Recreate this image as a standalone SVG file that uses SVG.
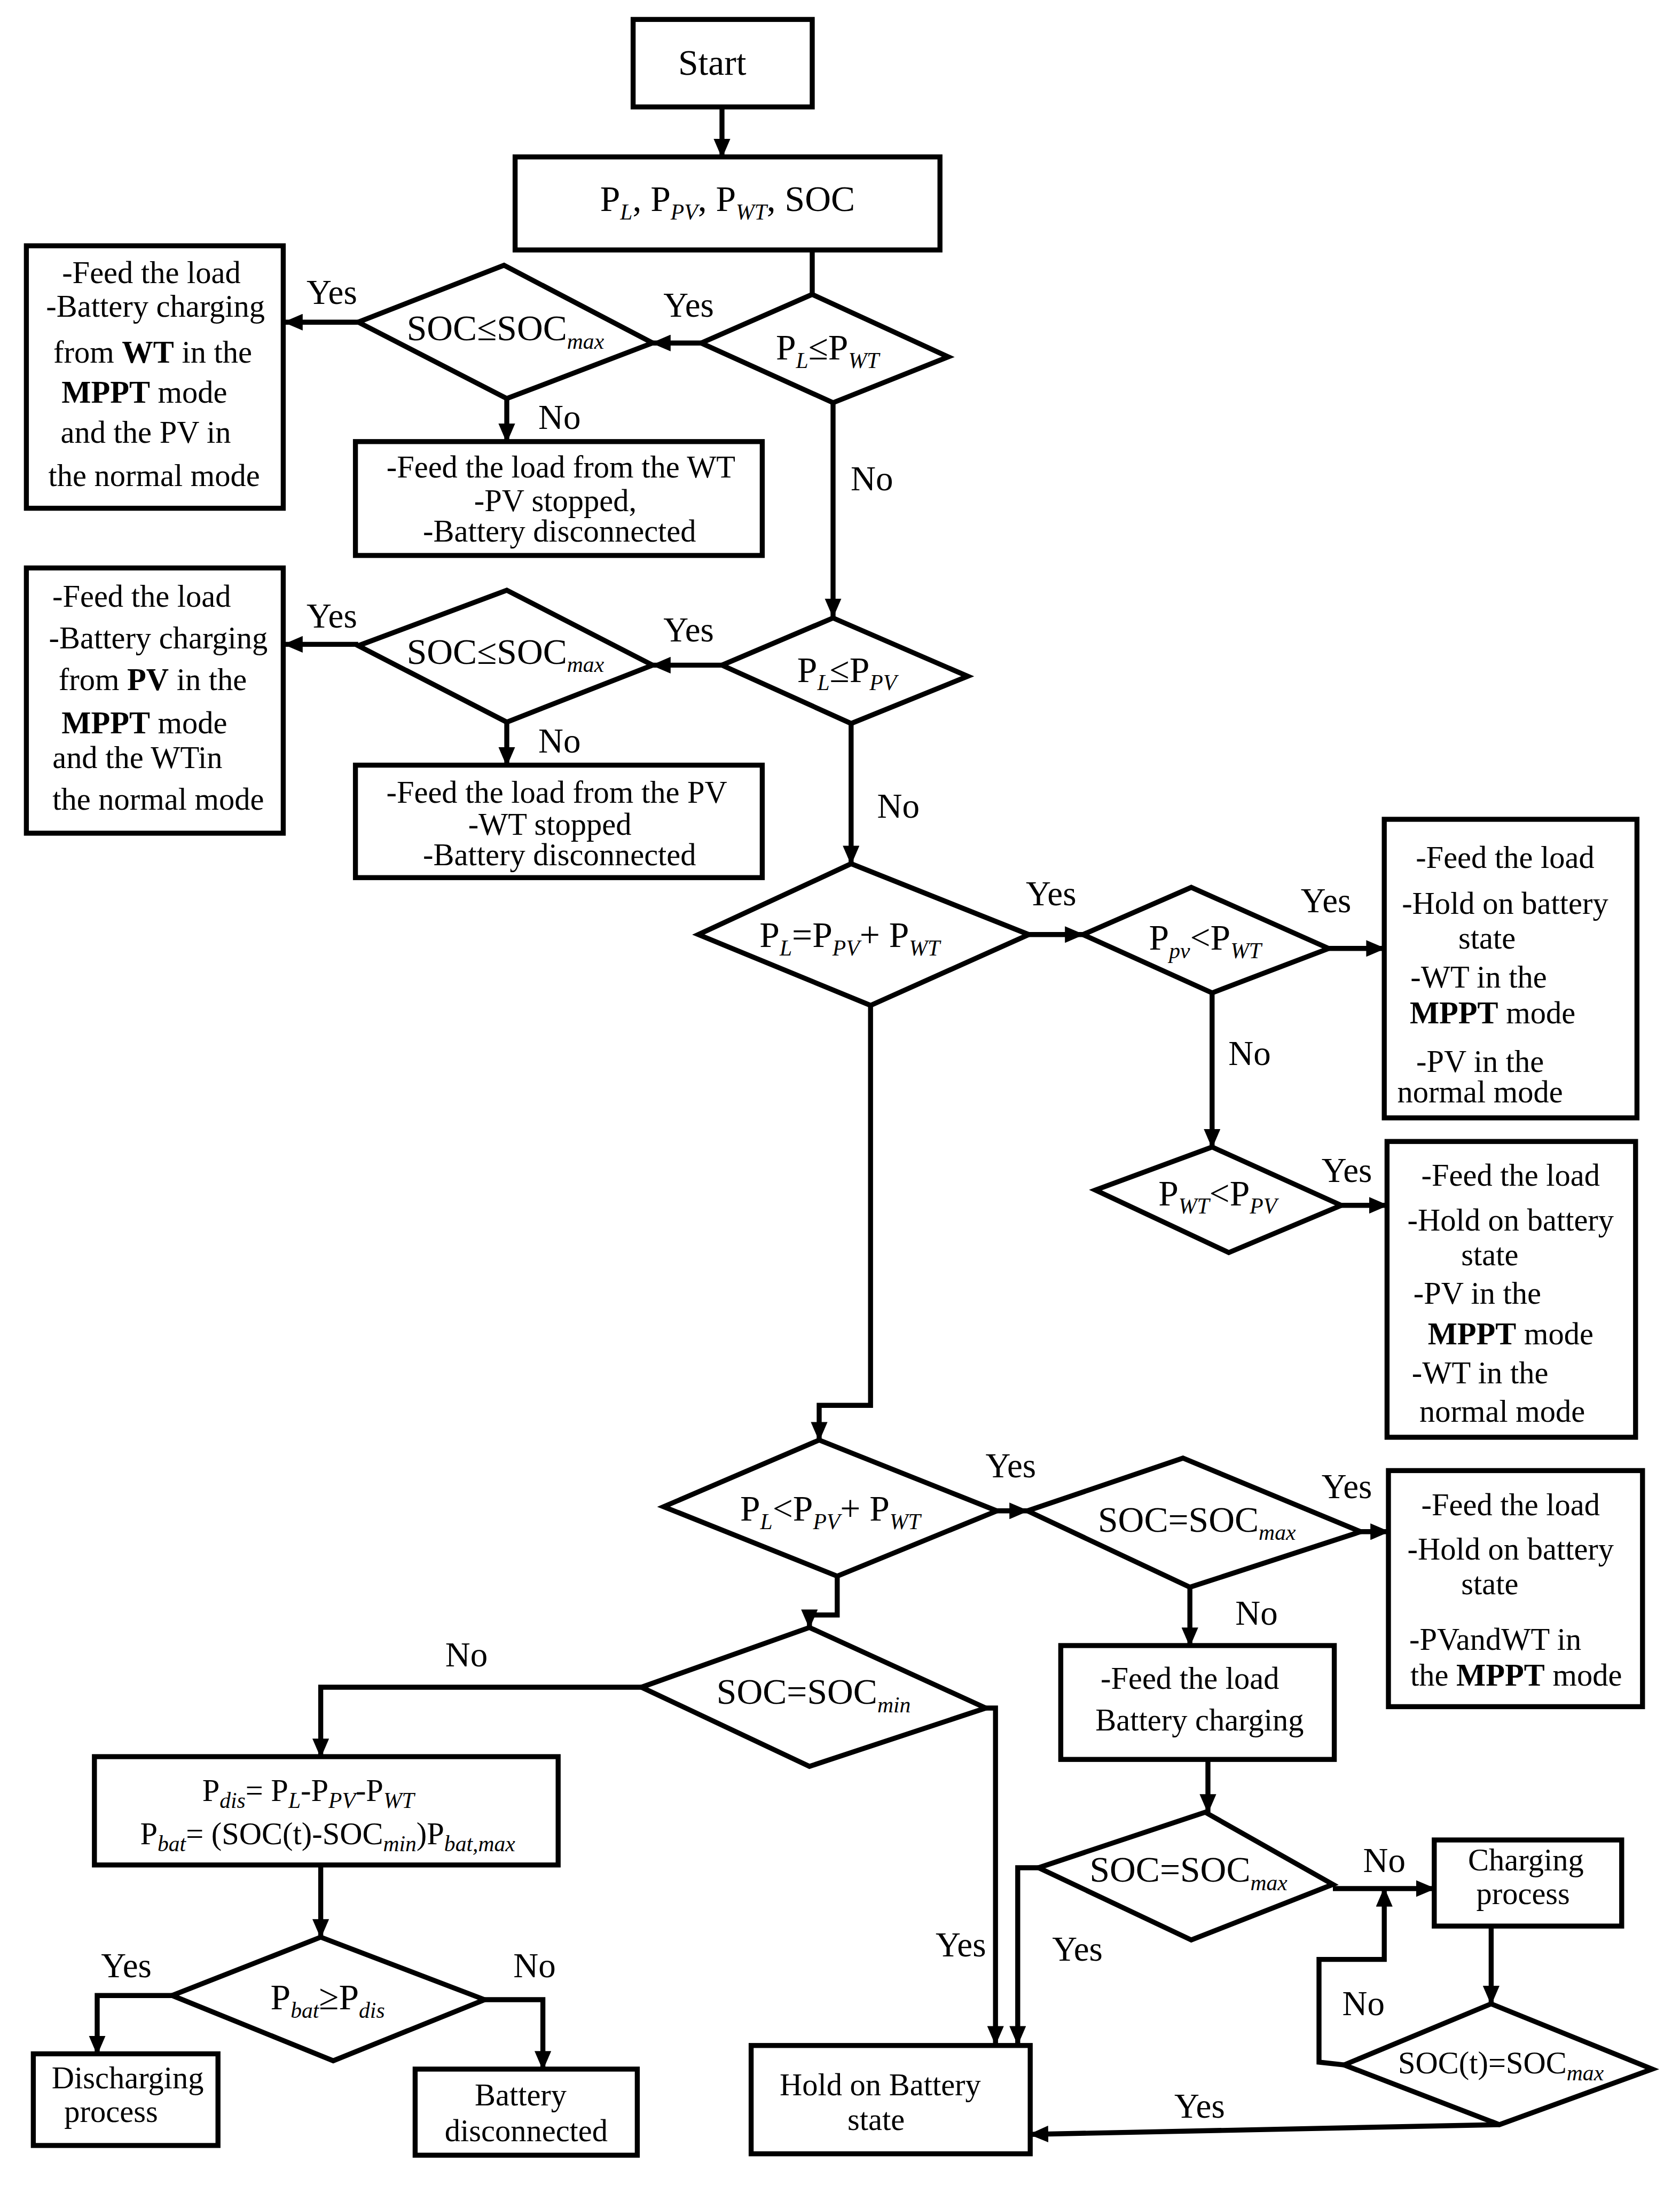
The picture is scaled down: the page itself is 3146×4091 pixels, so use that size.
<svg xmlns="http://www.w3.org/2000/svg" width="3146" height="4091" viewBox="0 0 3146 4091">
<style>
.b{fill:#fff;stroke:#000;stroke-width:3.6}
.c{fill:none;stroke:#000;stroke-width:3.6;marker-end:url(#ah)}
.l{fill:none;stroke:#000;stroke-width:3.6}
text{font-family:"Liberation Serif",serif;font-size:22.5px;fill:#000;text-anchor:middle}
.m{font-size:26px}
.s{font-size:16px;font-style:italic}
.lab{font-size:25px}
</style>
<defs><marker id="ah" markerUnits="userSpaceOnUse" markerWidth="14" markerHeight="12" refX="13" refY="6" orient="auto"><path d="M0,0L14,6L0,12z" fill="#000"/></marker></defs>
<rect width="3146" height="4091" fill="#fff"/>
<g transform="scale(2.6)">
<g id="connectors">
<path class="c" d="M520,77V113"/>
<path class="l" d="M585,180V212"/>
<path class="c" d="M505,247H470"/>
<path class="c" d="M258,232H205"/>
<path class="c" d="M365,287V318"/>
<path class="c" d="M600,290V444"/>
<path class="c" d="M520,479H470"/>
<path class="c" d="M258,464H205"/>
<path class="c" d="M365,520V551"/>
<path class="c" d="M613,521V622"/>
<path class="c" d="M741,673H780"/>
<path class="c" d="M957,683H997"/>
<path class="c" d="M873,715V826"/>
<path class="c" d="M966,868H999"/>
<path class="c" d="M627,724V1012H590V1037"/>
<path class="c" d="M718,1088H740"/>
<path class="c" d="M980,1103H1000"/>
<path class="c" d="M857,1143V1185"/>
<path class="c" d="M603,1135V1163H583V1172"/>
<path class="c" d="M462,1215H231V1265"/>
<path class="c" d="M710,1230H717V1472"/>
<path class="c" d="M231,1343V1395"/>
<path class="c" d="M124,1437H70V1479"/>
<path class="c" d="M349,1440H391V1490"/>
<path class="c" d="M870,1267V1305"/>
<path class="c" d="M748,1345H733V1472"/>
<path class="c" d="M960,1360H1033"/>
<path class="c" d="M1074,1387V1443"/>
<path class="c" d="M968,1487L950,1485V1411H997V1360"/>
<path class="c" d="M1080,1530L742,1537"/>
<text class="lab" x="496" y="228">Yes</text>
<text class="lab" x="239" y="219">Yes</text>
<text class="lab" x="403" y="309">No</text>
<text class="lab" x="628" y="353">No</text>
<text class="lab" x="496" y="462">Yes</text>
<text class="lab" x="239" y="452">Yes</text>
<text class="lab" x="403" y="542">No</text>
<text class="lab" x="647" y="589">No</text>
<text class="lab" x="757" y="652">Yes</text>
<text class="lab" x="955" y="657">Yes</text>
<text class="lab" x="900" y="767">No</text>
<text class="lab" x="970" y="851">Yes</text>
<text class="lab" x="728" y="1064">Yes</text>
<text class="lab" x="970" y="1079">Yes</text>
<text class="lab" x="905" y="1170">No</text>
<text class="lab" x="336" y="1200">No</text>
<text class="lab" x="692" y="1409">Yes</text>
<text class="lab" x="91" y="1424">Yes</text>
<text class="lab" x="385" y="1424">No</text>
<text class="lab" x="776" y="1412">Yes</text>
<text class="lab" x="997" y="1348">No</text>
<text class="lab" x="982" y="1451">No</text>
<text class="lab" x="864" y="1525">Yes</text>
</g>
<g id="start"><rect class="b" x="456" y="14" width="129" height="63"/><text class="m" x="513" y="54">Start</text></g>
<g id="inputs"><rect class="b" x="371" y="113" width="306" height="67"/><text class="m" x="524" y="152">P<tspan class="s" dy="6">L</tspan><tspan dy="-6">, P</tspan><tspan class="s" dy="6">PV</tspan><tspan dy="-6">, P</tspan><tspan class="s" dy="6">WT</tspan><tspan dy="-6">, SOC</tspan></text></g>
<g id="d1"><path class="b" d="M505,247L585,212L683,257L600,290Z"/><text class="m" x="596" y="259">P<tspan class="s" dy="6">L</tspan><tspan dy="-6">≤P</tspan><tspan class="s" dy="6">WT</tspan></text></g>
<g id="d2"><path class="b" d="M258,232L363,191L470,247L365,287Z"/><text class="m" x="364" y="245">SOC≤SOC<tspan class="s" dy="6">max</tspan></text></g>
<g id="b1"><rect class="b" x="19" y="177" width="185" height="189"/>
<text x="109" y="204">-Feed the load</text><text x="112" y="228">-Battery charging</text>
<text x="110" y="261">from <tspan font-weight="bold">WT</tspan> in the</text><text x="104" y="290"><tspan font-weight="bold">MPPT</tspan> mode</text>
<text x="105" y="319">and the PV in</text><text x="111" y="350">the normal mode</text></g>
<g id="b2"><rect class="b" x="256" y="318" width="293" height="82"/>
<text x="404" y="344">-Feed the load from the WT</text><text x="400" y="368">-PV stopped,</text><text x="403" y="390">-Battery disconnected</text></g>
<g id="d3"><path class="b" d="M520,479L600,445L697,487L613,521Z"/><text class="m" x="610" y="491">P<tspan class="s" dy="6">L</tspan><tspan dy="-6">≤P</tspan><tspan class="s" dy="6">PV</tspan></text></g>
<g id="d4"><path class="b" d="M258,465L365,425L470,479L365,520Z"/><text class="m" x="364" y="478">SOC≤SOC<tspan class="s" dy="6">max</tspan></text></g>
<g id="b3"><rect class="b" x="19" y="409" width="185" height="191"/>
<text x="102" y="437">-Feed the load</text><text x="114" y="467">-Battery charging</text>
<text x="110" y="497">from <tspan font-weight="bold">PV</tspan> in the</text><text x="104" y="528"><tspan font-weight="bold">MPPT</tspan> mode</text>
<text x="99" y="553">and the WTin</text><text x="114" y="583">the normal mode</text></g>
<g id="b4"><rect class="b" x="256" y="551" width="293" height="81"/>
<text x="401" y="578">-Feed the load from the PV</text><text x="396" y="601">-WT stopped</text><text x="403" y="623">-Battery disconnected</text></g>
<g id="d5"><path class="b" d="M503,673L613,622L741,673L627,724Z"/><text class="m" x="612" y="682">P<tspan class="s" dy="6">L</tspan><tspan dy="-6">=P</tspan><tspan class="s" dy="6">PV</tspan><tspan dy="-6">+ P</tspan><tspan class="s" dy="6">WT</tspan></text></g>
<g id="d6"><path class="b" d="M780,673L858,639L957,683L873,715Z"/><text class="m" x="868" y="684">P<tspan class="s" dy="6">pv</tspan><tspan dy="-6">&lt;P</tspan><tspan class="s" dy="6">WT</tspan></text></g>
<g id="b5"><rect class="b" x="997" y="590" width="182" height="215"/>
<text x="1084" y="625">-Feed the load</text><text x="1084" y="658">-Hold on battery</text><text x="1071" y="683">state</text>
<text x="1065" y="711">-WT in the</text><text x="1075" y="737"><tspan font-weight="bold">MPPT</tspan> mode</text>
<text x="1066" y="772">-PV in the</text><text x="1066" y="794">normal mode</text></g>
<g id="d7"><path class="b" d="M789,857L873,826L966,868L885,902Z"/><text class="m" x="877" y="868">P<tspan class="s" dy="6">WT</tspan><tspan dy="-6">&lt;P</tspan><tspan class="s" dy="6">PV</tspan></text></g>
<g id="b6"><rect class="b" x="999" y="822" width="179" height="213"/>
<text x="1088" y="854">-Feed the load</text><text x="1088" y="886">-Hold on battery</text><text x="1073" y="911">state</text>
<text x="1064" y="939">-PV in the</text><text x="1088" y="968"><tspan font-weight="bold">MPPT</tspan> mode</text>
<text x="1066" y="996">-WT in the</text><text x="1082" y="1024">normal mode</text></g>
<g id="d8"><path class="b" d="M478,1085L590,1037L718,1088L603,1135Z"/><text class="m" x="598" y="1095">P<tspan class="s" dy="6">L</tspan><tspan dy="-6">&lt;P</tspan><tspan class="s" dy="6">PV</tspan><tspan dy="-6">+ P</tspan><tspan class="s" dy="6">WT</tspan></text></g>
<g id="d9"><path class="b" d="M740,1088L852,1050L980,1103L857,1143Z"/><text class="m" x="862" y="1103">SOC=SOC<tspan class="s" dy="6">max</tspan></text></g>
<g id="b7"><rect class="b" x="1000" y="1059" width="183" height="170"/>
<text x="1088" y="1091">-Feed the load</text><text x="1088" y="1123">-Hold on battery</text><text x="1073" y="1148">state</text>
<text x="1077" y="1188">-PVandWT in</text><text x="1092" y="1214">the <tspan font-weight="bold">MPPT</tspan> mode</text></g>
<g id="b8"><rect class="b" x="764" y="1185" width="197" height="82"/>
<text x="857" y="1216">-Feed the load</text><text x="864" y="1246">Battery charging</text></g>
<g id="d10"><path class="b" d="M462,1215L583,1172L710,1230L583,1272Z"/><text class="m" x="586" y="1227">SOC=SOC<tspan class="s" dy="6">min</tspan></text></g>
<g id="b9"><rect class="b" x="68" y="1265" width="334" height="78"/>
<text x="222" y="1297">P<tspan class="s" dy="5">dis</tspan><tspan dy="-5">= P</tspan><tspan class="s" dy="5">L</tspan><tspan dy="-5">-P</tspan><tspan class="s" dy="5">PV</tspan><tspan dy="-5">-P</tspan><tspan class="s" dy="5">WT</tspan></text>
<text x="236" y="1328">P<tspan class="s" dy="5">bat</tspan><tspan dy="-5">= (SOC(t)-SOC</tspan><tspan class="s" dy="5">min</tspan><tspan dy="-5">)P</tspan><tspan class="s" dy="5">bat,max</tspan></text></g>
<g id="d11"><path class="b" d="M124,1437L231,1395L349,1440L240,1484Z"/><text class="m" x="236" y="1447">P<tspan class="s" dy="6">bat</tspan><tspan dy="-6">≥P</tspan><tspan class="s" dy="6">dis</tspan></text></g>
<g id="b10"><rect class="b" x="24" y="1479" width="133" height="66"/><text x="92" y="1504">Discharging</text><text x="80" y="1528">process</text></g>
<g id="b11"><rect class="b" x="299" y="1490" width="160" height="62"/><text x="375" y="1516">Battery</text><text x="379" y="1542">disconnected</text></g>
<g id="b12"><rect class="b" x="541" y="1473" width="201" height="78"/><text x="634" y="1509">Hold on Battery</text><text x="631" y="1534">state</text></g>
<g id="d12"><path class="b" d="M748,1345L868,1305L960,1357L858,1397Z"/><text class="m" x="856" y="1355">SOC=SOC<tspan class="s" dy="6">max</tspan></text></g>
<g id="b13"><rect class="b" x="1033" y="1325" width="135" height="62"/><text x="1099" y="1347">Charging</text><text x="1097" y="1371">process</text></g>
<g id="d13"><path class="b" d="M968,1487L1074,1443L1190,1490L1080,1530Z"/><text x="1081" y="1493">SOC(t)=SOC<tspan class="s" dy="5">max</tspan></text></g>
</g>
</svg>
